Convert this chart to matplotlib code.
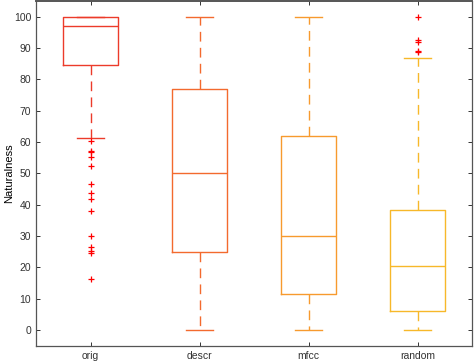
import numpy as np
import matplotlib.pyplot as plt

plt.rcParams['font.family'] = ['Liberation Sans', 'DejaVu Sans']
plt.rcParams['lines.scale_dashes'] = False

# Box statistics
labels = ['orig', 'descr', 'mfcc', 'random']
q1 = [84.5, 25.0, 11.5, 6.0]
medians = [97.0, 50.0, 30.0, 20.5]
q3 = [100.0, 77.0, 62.0, 38.5]
whis_lo = [61.2, 0.0, 0.0, 0.0]
whis_hi = [100.0, 100.0, 100.0, 86.7]
outliers = [
    [60.2, 57.3, 56.8, 55.2, 52.5, 46.6, 43.9, 41.9, 38.1, 30.0, 26.6, 25.3, 24.7, 16.4],
    [],
    [],
    [100.0, 92.6, 91.8, 89.1, 88.6],
]
colors = ['#ec3b2a', '#f36a2e', '#f79a2e', '#f7b82a']

stats = []
for i, lab in enumerate(labels):
    stats.append(dict(label=lab, q1=q1[i], med=medians[i], q3=q3[i],
                      whislo=whis_lo[i], whishi=whis_hi[i], fliers=outliers[i]))

fig = plt.figure(figsize=(4.74, 3.61), dpi=100)
ax = fig.add_axes([0.076, 0.042, 0.92, 0.955])

bp = ax.bxp(stats, widths=0.5, capwidths=0.25, patch_artist=False,
            flierprops=dict(marker='+', markeredgecolor='red', markersize=5,
                            markeredgewidth=0.9, linestyle='none'))

for i, c in enumerate(colors):
    bp['boxes'][i].set(color=c, linewidth=1.0)
    bp['medians'][i].set(color=c, linewidth=1.0)
    for w in bp['whiskers'][2 * i:2 * i + 2]:
        w.set(color=c, linewidth=1.0, linestyle=(0, (7, 4.5)))
    for cp in bp['caps'][2 * i:2 * i + 2]:
        cp.set(color=c, linewidth=1.0)

ax.set_xlim(0.5, 4.5)
ax.set_ylim(-5, 105)
ax.set_yticks(np.arange(0, 101, 10))
ax.set_ylabel('Naturalness', fontsize=8)
ax.yaxis.set_label_coords(-0.05, 0.5)
ax.tick_params(direction='in', length=3, width=0.7, labelsize=7.5,
               colors='#333333', top=True, right=True)
for s in ax.spines.values():
    s.set_color('#555555')
    s.set_linewidth(0.9)
ax.spines['top'].set_linewidth(1.4)

fig.savefig('out.png', dpi=100)
